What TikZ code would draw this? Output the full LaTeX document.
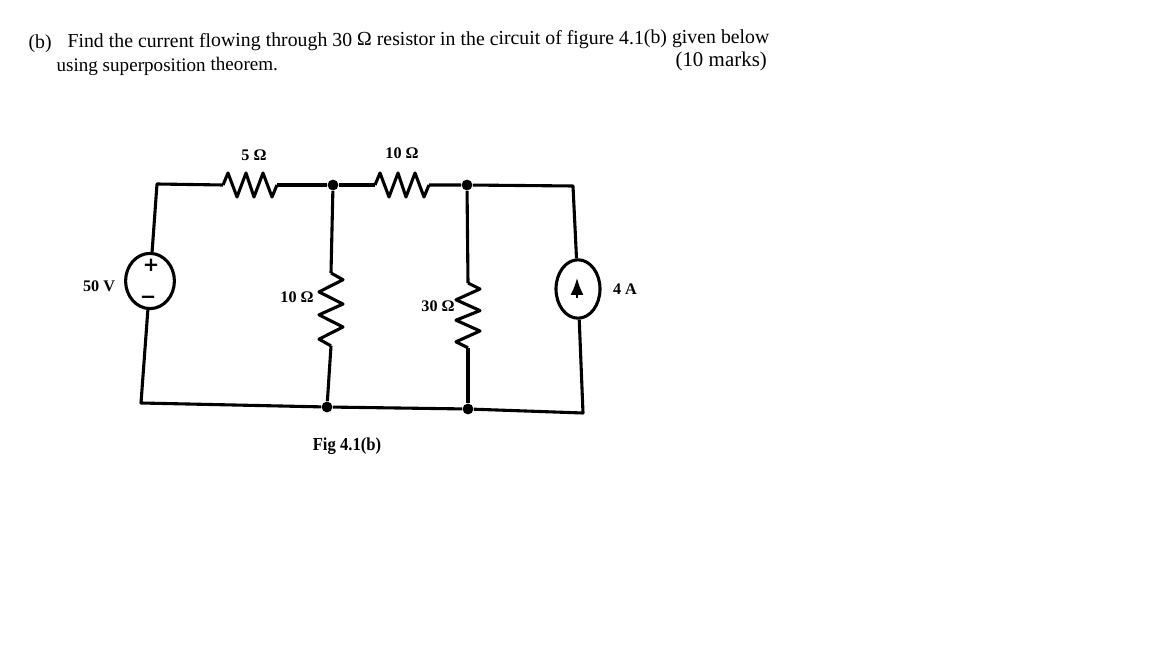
\documentclass[tikz,border=0pt]{standalone}
\usepackage{fontspec}
\setmainfont{Liberation Serif}
\newfontfamily\symfont{DejaVu Sans}
\usetikzlibrary{arrows.meta, shapes.geometric}

\tikzset{
	wire/.style={line width=2.2pt, line join=round},
	junc/.style={circle, fill=black, inner sep=0pt, minimum size=0.27cm},
	val/.style={font=\fontsize{11.5}{12}\selectfont\bfseries, inner sep=0pt},
	polar/.style={font=\fontsize{14}{14}\selectfont\symfont\bfseries, inner sep=0pt},
	prob/.style={font=\fontsize{14.1}{15}\selectfont, inner sep=0pt, anchor=base west, rotate=0.4},
	zigres/.pic={
		\draw[wire] (0,0) -- (5,-12) -- (14,12) -- (23,-12) -- (31,12) -- (40,-12) -- (49,12) -- (54,0);
		\coordinate (-in) at (0,0);
		\coordinate (-out) at (54,0);
	}
}

\begin{document}
\begin{tikzpicture}[x=0.025cm, y=-0.025cm, line width=0.75pt]
		\useasboundingbox (0,0) rectangle (1152,648);
		\fill[white] (0,0) rectangle (1152,648);

		\node[prob] (line1) at (67,48) {Find the current flowing through 30 Ω resistor in the circuit of figure 4.1(b) given below};
		\node[prob] (tag) at (28,49) {(b)};
		\node[prob, font=\fontsize{13.6}{15}\selectfont] (line2) at (56,72) {using superposition theorem.};
		\node[prob, font=\fontsize{14.9}{15}\selectfont] (marks) at (675,67) {(10 marks)};

		\coordinate (cTL) at (157,184);
		\coordinate (cBL) at (141,403);
		\coordinate (cTR) at (573,186);
		\coordinate (cBR) at (583,413);
		\node[junc] (jA) at (333,185) {};
		\node[junc] (jB) at (467,185) {};
		\node[junc] (jC) at (327,407) {};
		\node[junc] (jD) at (468,409) {};

		\node[draw, wire, ellipse, inner sep=0pt, minimum width=1.22cm, minimum height=1.38cm] (vsrc) at (150,281) {};
		\node[draw, wire, ellipse, inner sep=0pt, minimum width=1.1cm, minimum height=1.46cm] (isrc) at (578,289) {};
		\node[polar] (plus) at (151,265) {+};
		\node[polar] (minus) at (148,300) {−};
		\coordinate (arrS) at (577,298);
		\coordinate (arrE) at (577,278);
		\draw[line width=1.2pt, -{Latex[length=0.42cm, width=0.32cm]}] (arrS) -- (arrE);

		\pic (rA) at (223,185) {zigres};
		\pic (rB) at (375,185) {zigres};
		\pic[rotate=-90, xscale=1.35] (rC) at (331,273) {zigres};
		\pic[rotate=-90, xscale=1.2] (rD) at (468,283) {zigres};

		\draw[wire] (vsrc) -- (cTL) -- (rA-in);
		\draw[wire] (rA-out) -- (jA) -- (rB-in);
		\draw[wire] (rB-out) -- (jB) -- (cTR) -- (isrc);
		\draw[wire] (jA) -- (rC-in);
		\draw[wire] (rC-out) -- (jC);
		\draw[wire] (jB) -- (rD-in);
		\draw[wire] (rD-out) -- (jD);
		\draw[wire] (vsrc) -- (cBL) -- (jC) -- (jD) -- (cBR) -- (isrc);

		\node[val] (lblA) at (254,155) {5 Ω};
		\node[val] (lblB) at (402,153) {10 Ω};
		\node[val] (lblC) at (297,297) {10 Ω};
		\node[val] (lblD) at (438,306) {30 Ω};
		\node[val] (lblV) at (99,286) {50 V};
		\node[val] (lblI) at (625,289) {4 A};
		\node[val, font=\fontsize{13}{14}\selectfont\bfseries, xscale=0.91] (lblF) at (347,446) {Fig 4.1(b)};
	\end{tikzpicture}
\end{document}
